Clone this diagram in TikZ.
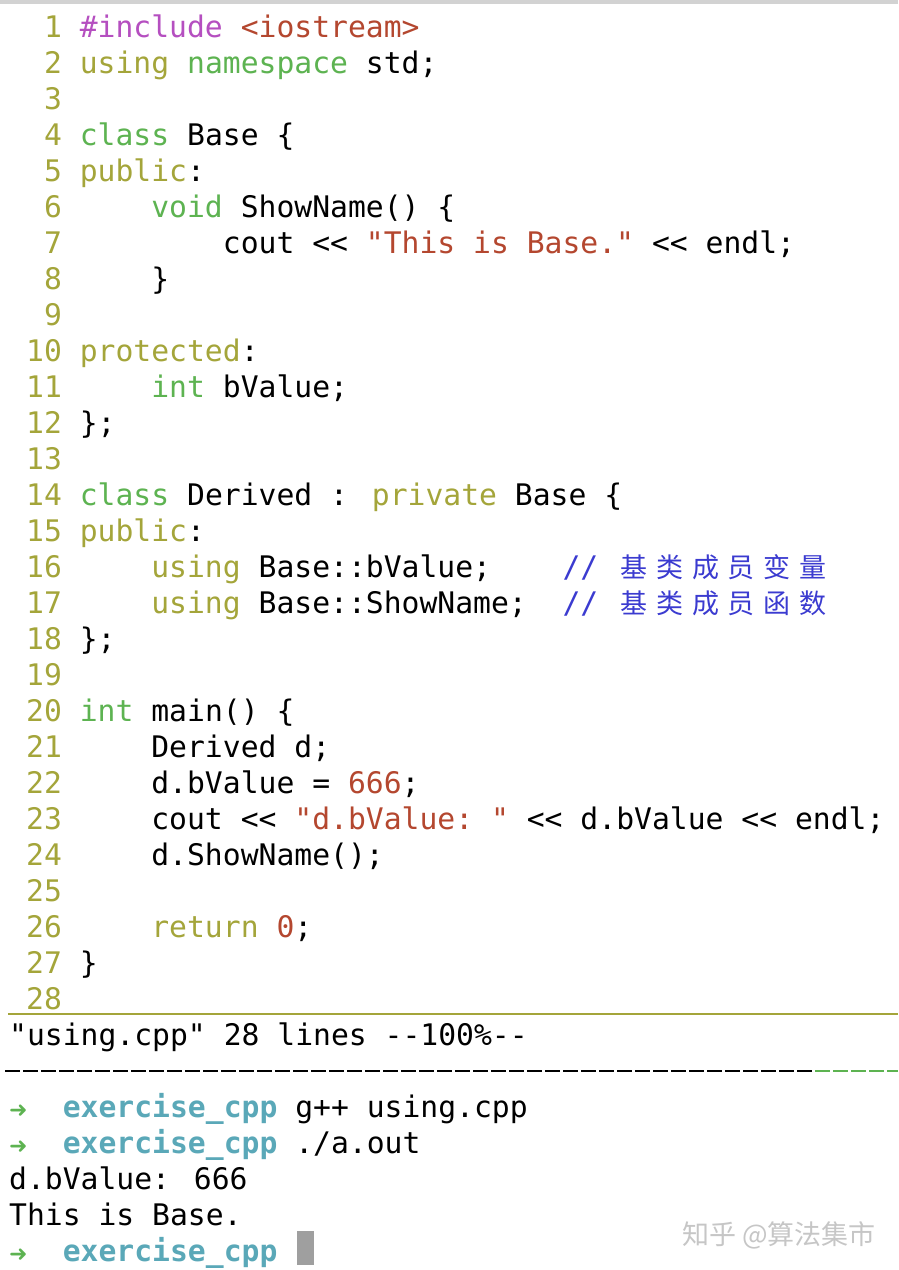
\documentclass[tikz,border=0pt]{standalone}
\usepackage{fontspec}
\newfontfamily\mono{DejaVu Sans Mono}
\newfontfamily\monob{DejaVu Sans Mono Bold}
\newfontfamily\sym{DejaVu Sans}
\newfontfamily\cjk{Noto Sans CJK SC}
\definecolor{olv}{HTML}{A4A53A}
\definecolor{grn}{HTML}{5DB351}
\definecolor{pur}{HTML}{B54FC0}
\definecolor{red}{HTML}{B4472F}
\definecolor{blu}{HTML}{3B3BD0}
\definecolor{teal}{HTML}{5AA8B8}
\newlength\cw
\setlength\cw{17.88pt}
\newcommand\kw[1]{\textcolor{grn}{#1}}
\newcommand\kp[1]{\textcolor{olv}{#1}}
\newcommand\st[1]{\textcolor{red}{#1}}
\newcommand\pp[1]{\textcolor{pur}{#1}}
\newcommand\ind[1]{\hspace*{#1\cw}}
\newcommand\cc[1]{\makebox[2\cw][c]{\cjk\fontsize{27}{27}\selectfont #1}}
\newcommand\lno[1]{\textcolor{olv}{#1}}
\newcommand\arr{\makebox[\cw][l]{\textcolor{grn}{\sym\fontsize{22}{22}\selectfont ➜}}}
\newcommand\prm{\textcolor{teal}{\monob exercise\_cpp}}
\begin{document}
\begin{tikzpicture}[x=1pt,y=-1pt,
  ln/.style={anchor=base west,inner sep=0pt,font=\mono\fontsize{29.7}{30}\selectfont}]
\useasboundingbox (0,0) rectangle (898,1270);
\fill[white] (0,0) rectangle (898,1270);
\fill[gray!35] (0,0) rectangle (898,4);
\node[ln] (l1) at (26,37) {\ind{1}\lno{1} \pp{\#include} \st{<iostream>}};
\node[ln] (l2) at (26,73) {\ind{1}\lno{2} \kp{using} \kw{namespace} std;};
\node[ln] (l3) at (26,109) {\ind{1}\lno{3}};
\node[ln] (l4) at (26,145) {\ind{1}\lno{4} \kw{class} Base \{};
\node[ln] (l5) at (26,181) {\ind{1}\lno{5} \kp{public}:};
\node[ln] (l6) at (26,217) {\ind{1}\lno{6} \ind{4}\kw{void} ShowName() \{};
\node[ln] (l7) at (26,253) {\ind{1}\lno{7} \ind{8}cout << \st{"This is Base."} << endl;};
\node[ln] (l8) at (26,289) {\ind{1}\lno{8} \ind{4}\}};
\node[ln] (l9) at (26,325) {\ind{1}\lno{9}};
\node[ln] (l10) at (26,361) {\lno{10} \kp{protected}:};
\node[ln] (l11) at (26,397) {\lno{11} \ind{4}\kw{int} bValue;};
\node[ln] (l12) at (26,433) {\lno{12} \};};
\node[ln] (l13) at (26,469) {\lno{13}};
\node[ln] (l14) at (26,505) {\lno{14} \kw{class} Derived : \kp{private} Base \{};
\node[ln] (l15) at (26,541) {\lno{15} \kp{public}:};
\node[ln] (l16) at (26,577) {\lno{16} \ind{4}\kp{using} Base::bValue;\ind{4}\textcolor{blu}{//\ind{1}\cc{基}\cc{类}\cc{成}\cc{员}\cc{变}\cc{量}}};
\node[ln] (l17) at (26,613) {\lno{17} \ind{4}\kp{using} Base::ShowName;\ind{2}\textcolor{blu}{//\ind{1}\cc{基}\cc{类}\cc{成}\cc{员}\cc{函}\cc{数}}};
\node[ln] (l18) at (26,649) {\lno{18} \};};
\node[ln] (l19) at (26,685) {\lno{19}};
\node[ln] (l20) at (26,721) {\lno{20} \kw{int} main() \{};
\node[ln] (l21) at (26,757) {\lno{21} \ind{4}Derived d;};
\node[ln] (l22) at (26,793) {\lno{22} \ind{4}d.bValue = \st{666};};
\node[ln] (l23) at (26,829) {\lno{23} \ind{4}cout << \st{"d.bValue:\ "} << d.bValue << endl;};
\node[ln] (l24) at (26,865) {\lno{24} \ind{4}d.ShowName();};
\node[ln] (l25) at (26,901) {\lno{25}};
\node[ln] (l26) at (26,937) {\lno{26} \ind{4}\kp{return} \st{0};};
\node[ln] (l27) at (26,973) {\lno{27} \}};
\node[ln] (l28) at (26,1009) {\lno{28}};
\draw[olv,line width=2.5pt] (8,1014) -- (898,1014);
\node[ln] (stat) at (9,1045) {"using.cpp" 28 lines --100\%--};
\draw[black,line width=2.5pt,dash pattern=on 15pt off 3pt] (5,1071) -- (815,1071);
\draw[grn,line width=2.5pt,dash pattern=on 15pt off 3pt] (815,1071) -- (898,1071);
\node[ln] (t1) at (9,1117) {\arr\ind{2}\prm\ g++ using.cpp};
\node[ln] (t2) at (9,1153) {\arr\ind{2}\prm\ ./a.out};
\node[ln] (t3) at (9,1189) {d.bValue: 666};
\node[ln] (t4) at (9,1225) {This is Base.};
\node[ln] (t5) at (9,1261) {\arr\ind{2}\prm};
\fill[gray!75] (297,1231) rectangle (314,1265);
\node[anchor=base west,inner sep=0pt,font=\cjk\fontsize{27}{27}\selectfont,text=gray!45] (wm) at (682,1244) {知乎 @算法集市};
\end{tikzpicture}
\end{document}
